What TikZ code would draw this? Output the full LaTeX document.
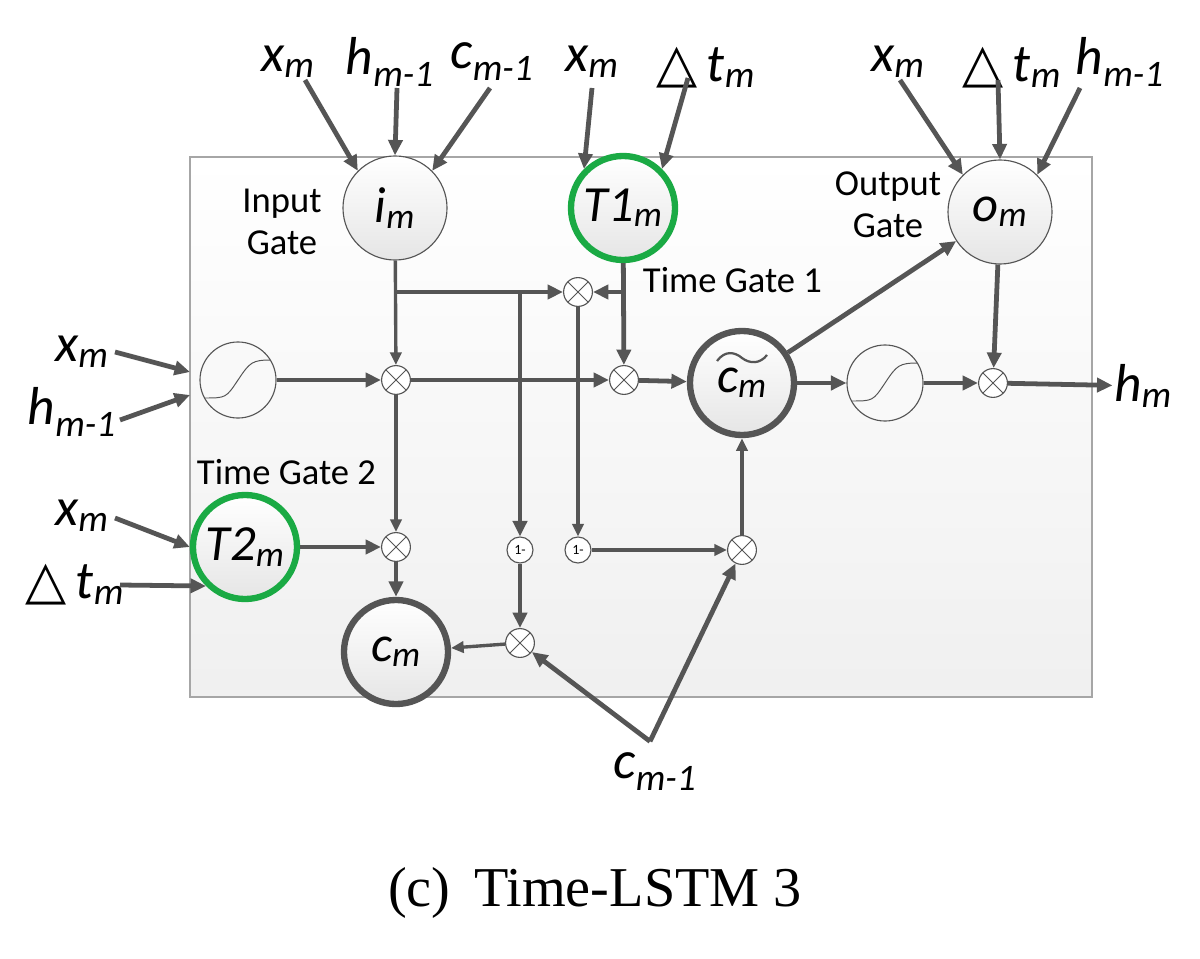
\documentclass[tikz,border=0pt]{standalone}
\usepackage{fontspec}
\setmainfont{Carlito}
\newfontfamily\capfont{Liberation Serif}
\newfontfamily\djv{DejaVu Sans}
\usetikzlibrary{arrows.meta}
\definecolor{ln}{HTML}{555555}
\definecolor{gg}{HTML}{1AAA44}
\newcommand{\dT}{{\upshape\djv △}}
\begin{document}
\begin{tikzpicture}[x=0.025cm,y=-0.025cm,
  ar/.style={draw=ln,line width=3.4pt,-{Triangle[length=11pt,width=10pt]}},
  tar/.style={draw=ln,line width=2.4pt,-{Triangle[length=9pt,width=8pt]}},
  bigc/.style={circle,minimum size=2.6cm,draw=ln,line width=0.8pt,inner sep=0pt,
     top color=white,bottom color=gray!20,font=\fontsize{36}{38}\selectfont\itshape},
  grn/.style={bigc,draw=gg,line width=4.5pt},
  thk/.style={bigc,draw=ln,line width=4.5pt},
  mul/.style={circle,minimum size=0.72cm,draw=ln,line width=0.8pt,fill=white,inner sep=0pt,
     path picture={\draw[ln,line width=0.6pt](path picture bounding box.north west)--(path picture bounding box.south east)
       (path picture bounding box.north east)--(path picture bounding box.south west);}},
  tnh/.style={circle,minimum size=1.9cm,draw=ln,line width=0.8pt,fill=gray!5,inner sep=0pt,
     path picture={\draw[ln,line width=0.7pt] ([xshift=-0.85cm,yshift=-0.45cm]path picture bounding box.center) .. controls +(0.55cm,0cm) and +(-0.3cm,-0.45cm) .. (path picture bounding box.center) .. controls +(0.3cm,0.45cm) and +(-0.5cm,0cm) .. ([xshift=0.85cm,yshift=0.5cm]path picture bounding box.center);}},
  one/.style={circle,minimum size=0.65cm,draw=ln,line width=0.8pt,fill=white,inner sep=0pt,font=\fontsize{10}{10}\selectfont},
  lab/.style={font=\fontsize{38}{40}\selectfont\itshape,inner sep=1pt},
  gl/.style={font=\fontsize{26}{30}\selectfont,align=center}]
\useasboundingbox (0,0) rectangle (1200,958);
\fill[white] (0,0) rectangle (1200,958);
\draw[draw=gray!70,line width=1pt,top color=white,bottom color=gray!12] (190,157) rectangle (1092,697);
% nodes
\node[bigc] (im) at (395,208) {i\textsubscript{\textit{m}}};
\node[grn] (T1) at (623,208) {T1\textsubscript{\textit{m}}};
\node[bigc] (om) at (1000,212) {o\textsubscript{\textit{m}}};
\node[thk] (ct) at (742,383) {\raisebox{-6pt}{c\textsubscript{\textit{m}}}};
\draw[ln,line width=1.6pt] (717,361) .. controls (725,350) and (735,352) .. (742,358) .. controls (750,364) and (760,364) .. (767,355);
\node[thk] (cm) at (396,652) {c\textsubscript{\textit{m}}};
\node[grn] (T2) at (245,547) {T2\textsubscript{\textit{m}}};
\node[tnh] (th1) at (238,380) {};
\node[tnh] (th2) at (885,383) {};
\node[mul] (m1) at (396,380) {};
\node[mul] (m2) at (624,380) {};
\node[mul] (m3) at (993,383) {};
\node[mul] (m4) at (578,292) {};
\node[mul] (m5) at (396,547) {};
\node[mul] (m6) at (520,643) {};
\node[mul] (m7) at (742,550) {};
\node[one] (o1) at (520,550) {1-};
\node[one] (o2) at (578,550) {1-};
\coordinate (j1) at (396,292);
\coordinate (j2) at (624,292);
\coordinate (j3) at (520,292);
% gate labels
\node[gl] at (282,222) {Input\\Gate};
\node[gl] at (888,205) {Output\\Gate};
\node[gl,anchor=west] at (638,280) {Time Gate 1};
\node[gl,anchor=west] at (192,472) {Time Gate 2};
% top labels
\node[lab] (a1) at (288,62) {x\textsubscript{m}};
\node[lab] (a2) at (390,62) {h\textsubscript{m-1}};
\node[lab] (a3) at (492,62) {c\textsubscript{m-1}};
\node[lab] (a4) at (592,62) {x\textsubscript{m}};
\node[lab] (a5) at (706,68) {\dT\,t\textsubscript{m}};
\node[lab] (a6) at (898,62) {x\textsubscript{m}};
\node[lab] (a7) at (1012,68) {\dT\,t\textsubscript{m}};
\node[lab] (a8) at (1120,62) {h\textsubscript{m-1}};
\node[lab] (l1) at (82,352) {x\textsubscript{m}};
\node[lab] (l2) at (72,412) {h\textsubscript{m-1}};
\node[lab] (l3) at (82,516) {x\textsubscript{m}};
\node[lab] (l4) at (75,585) {\dT\,t\textsubscript{m}};
\node[lab] (hm) at (1143,386) {h\textsubscript{m}};
\node[lab] (cb) at (655,772) {c\textsubscript{m-1}};
\node[font=\capfont\fontsize{40}{44}\selectfont] (cap) at (595,893) {(c)\, Time-LSTM 3};
% inputs
\coordinate (t1) at (305,80); \coordinate (t2) at (397,88); \coordinate (t3) at (490,88);
\coordinate (t4) at (592,88); \coordinate (t5) at (688,78); \coordinate (t6) at (900,80);
\coordinate (t7) at (998,80); \coordinate (t8) at (1080,88);
\draw[ar] (t1) -- (im.north west); \draw[ar] (t2) -- (im.north); \draw[ar] (t3) -- (im.north east);
\draw[ar] (t4) -- (T1.north west); \draw[ar] (t5) -- (T1.north east);
\draw[ar] (t6) -- (om.north west); \draw[ar] (t7) -- (om.north); \draw[ar] (t8) -- (om.north east);
\coordinate (s1) at (115,352); \coordinate (s2) at (120,420); \coordinate (s3) at (115,518); \coordinate (s4) at (120,585);
\draw[ar] (s1) -- (190,372); \draw[ar] (s2) -- (190,395);
\draw[ar] (s3) -- (T2.west); \draw[ar] (s4) -- (T2.south west);
% internal wiring
\draw[ar] (th1) -- (m1);
\draw[ar] (m1) -- (m2);
\draw[ar] (m2) -- (ct);
\draw[ar] (ct) -- (th2);
\draw[ar] (th2) -- (m3);
\draw[ar] (m3) -- (hm);
\draw[ar] (ct) -- (om);
\draw[ar] (om) -- (m3);
\draw[tar] (im) -- (m1);
\draw[tar] (m1) -- (m5);
\draw[ar] (m5) -- (cm);
\draw[ar] (T2) -- (m5);
\draw[ar] (j1) -- (m4);
\draw[ar] (T1) -- (m2);
\draw[ar] (j2) -- (m4);
\draw[ar] (j3) -- (o1);
\draw[ar] (o1) -- (m6);
\draw[tar] (m4) -- (o2);
\draw[tar] (o2) -- (m7);
\draw[tar] (m7) -- (ct);
\draw[tar] (m6) -- (cm);
\draw[ar] (cb.north) ++(-5,-10) coordinate (cc) -- (m6);
\draw[ar] (cc) -- (m7);
\end{tikzpicture}
\end{document}
